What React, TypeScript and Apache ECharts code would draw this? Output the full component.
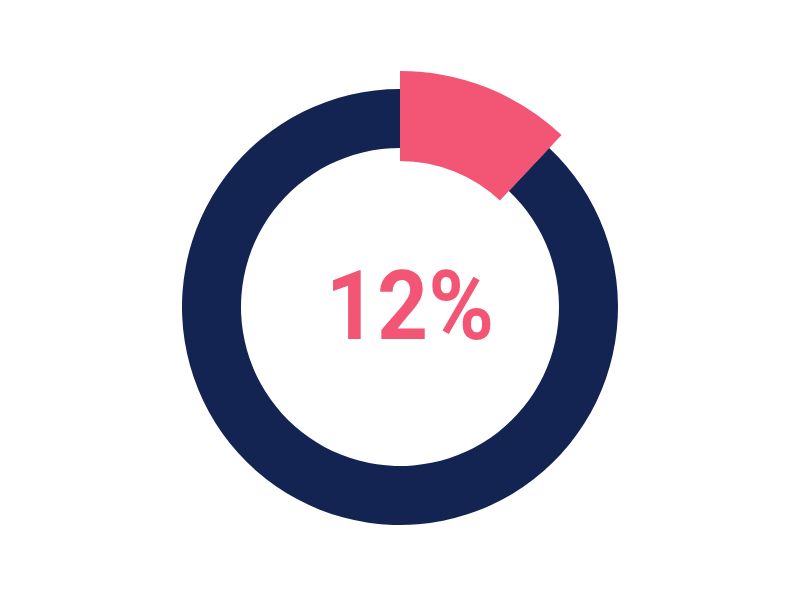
import React, { useEffect, useRef } from "react";
import * as echarts from "echarts";

const categories = ["Share", "Rest"];
const values = [12, 88];
const labelText = "12%";
const colors = { accent: "#f25674", base: "#142452" };

export default function App() {
  const ref = useRef<HTMLDivElement>(null);
  useEffect(() => {
    if (!ref.current) return;
    const chart = echarts.init(ref.current, null, { renderer: "svg" });
    chart.setOption({
      animation: false,
      backgroundColor: "#ffffff",
      series: [
        {
          type: "pie",
          center: [400, 307],
          radius: [159, 218],
          startAngle: 90,
          clockwise: true,
          silent: true,
          label: { show: false },
          labelLine: { show: false },
          data: [
            { name: categories[0], value: values[0], itemStyle: { color: colors.base } },
            { name: categories[1], value: values[1], itemStyle: { color: colors.base } },
          ],
        },
        {
          type: "pie",
          center: [400, 307],
          radius: [146, 236],
          startAngle: 90,
          clockwise: true,
          silent: true,
          label: { show: false },
          labelLine: { show: false },
          data: [
            { name: categories[0], value: values[0], itemStyle: { color: colors.accent } },
            { name: categories[1], value: values[1], itemStyle: { color: "rgba(0,0,0,0)" } },
          ],
        },
      ],
      graphic: [
        {
          type: "text",
          x: 410,
          y: 306,
          scaleX: 0.92,
          style: {
            text: labelText,
            fill: colors.accent,
            font: "bold 97px Roboto",
            textAlign: "center",
            textVerticalAlign: "middle",
          },
        },
      ],
    });
    return () => chart.dispose();
  }, []);
  return (
    <div
      ref={ref}
      style={{ position: "fixed", left: 0, top: 0, width: 800, height: 614 }}
    />
  );
}
